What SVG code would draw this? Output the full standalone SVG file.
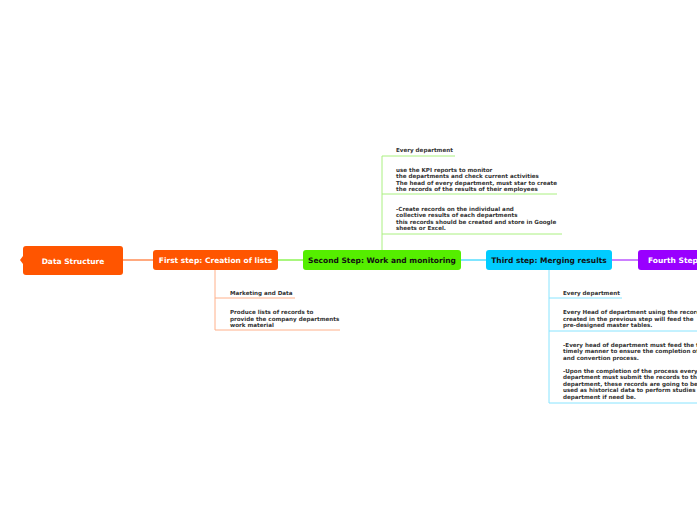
<svg xmlns="http://www.w3.org/2000/svg" width="697" height="520" viewBox="0 0 697 520">
<style>
.n{font-family:"DejaVu Sans",Verdana,sans-serif;font-weight:bold;font-size:7.5px}
.t{font-family:"DejaVu Sans",Verdana,sans-serif;font-weight:bold;font-size:5.6px;fill:#333}
.l{fill:none;stroke-width:1}
</style>
<rect width="697" height="520" fill="#fff"/>
<g id="connectors">
<path class="l" stroke="#ff5500" stroke-width="1.2" d="M123 260H153"/>
<path class="l" stroke="#55ee00" stroke-width="1.2" d="M278 260H303"/>
<path class="l" stroke="#00ccff" stroke-width="1.2" d="M461 260H486"/>
<path class="l" stroke="#9900ff" stroke-width="1.2" d="M612 260H638"/>
<path class="l" stroke="#ffb08a" d="M215 270V330M215 298H295M215 330H340"/>
<path class="l" stroke="#aaf080" d="M382 250V156M382 156H455M382 194H557M382 234H562"/>
<path class="l" stroke="#88e4ff" d="M549 270V403M549 298H622M549 331H697M549 403H697"/>
</g>
<g id="n0"><path d="M23 256L20 260L23 264Z" fill="#ff5500"/><rect x="23" y="246" width="100" height="29" rx="3" fill="#ff5500"/><text class="n" x="73" y="264" text-anchor="middle" fill="#fff" font-size="9.5">Data Structure</text></g>
<g id="n1"><rect x="153" y="250" width="125" height="20" rx="3" fill="#ff5500"/><text class="n" x="215.5" y="263" text-anchor="middle" fill="#fff">First step: Creation of lists</text></g>
<g id="n2"><rect x="303" y="250" width="158" height="20" rx="3" fill="#55ee00"/><text class="n" x="382" y="263" text-anchor="middle" fill="#111">Second Step: Work and monitoring</text></g>
<g id="n3"><rect x="486" y="250" width="126" height="20" rx="3" fill="#00ccff"/><text class="n" x="549" y="263" text-anchor="middle" fill="#111">Third step: Merging results</text></g>
<g id="n4"><rect x="638" y="250" width="70" height="20" rx="3" fill="#9900ff"/><text class="n" x="648" y="263" fill="#fff">Fourth Step:</text></g>
<g id="t1"><text class="t" x="230" y="295">Marketing and Data</text>
<text class="t" x="230" y="314">Produce lists of records to</text><text class="t" x="230" y="321">provide the company departments</text><text class="t" x="230" y="327">work material</text></g>
<g id="t2"><text class="t" x="396" y="152">Every department</text>
<text class="t" x="396" y="172">use the KPI reports to monitor</text><text class="t" x="396" y="178">the departments and check current activities</text><text class="t" x="396" y="185">The head of every department, must star to create</text><text class="t" x="396" y="191">the records of the results of their employees</text>
<text class="t" x="396" y="211">-Create records on the individual and</text><text class="t" x="396" y="217">collective results of each departments</text><text class="t" x="396" y="224">this records should be created and store in Google</text><text class="t" x="396" y="230">sheets or Excel.</text></g>
<g id="t3"><text class="t" x="563" y="295">Every department</text>
<text class="t" x="563" y="314">Every Head of department using the records</text><text class="t" x="563" y="321">created in the previous step will feed the</text><text class="t" x="563" y="327">pre-designed master tables.</text>
<text class="t" x="563" y="347">-Every head of department must feed the tables in a</text><text class="t" x="563" y="353">timely manner to ensure the completion of the</text><text class="t" x="563" y="360">and convertion process.</text>
<text class="t" x="563" y="373">-Upon the completion of the process every</text><text class="t" x="563" y="379">department must submit the records to the</text><text class="t" x="563" y="386">department, these records are going to be stored and</text><text class="t" x="563" y="392">used as historical data to perform studies or</text><text class="t" x="563" y="399">department if need be.</text></g>
</svg>
